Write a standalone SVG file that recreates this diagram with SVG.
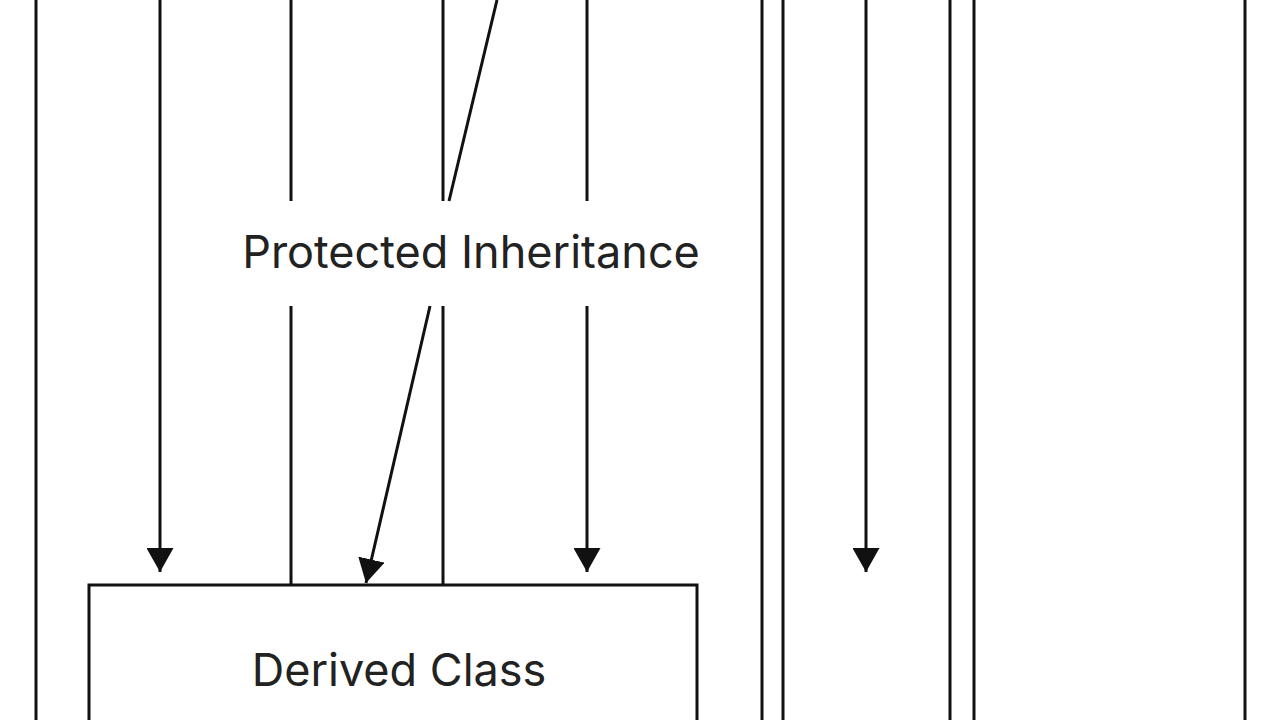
<svg xmlns="http://www.w3.org/2000/svg" width="1280" height="720" viewBox="0 0 1280 720">
<defs>
<marker id="ah" markerWidth="8" markerHeight="9" refX="8" refY="4.5" orient="auto" markerUnits="strokeWidth">
<path d="M0,0 L8,4.5 L0,9 Z" fill="#111"/>
</marker>
</defs>
<style>
.l{stroke:#111;stroke-width:3;fill:none}
.t{font-family:"Inter","Liberation Sans",sans-serif;font-size:45px;fill:#222;text-anchor:middle}
</style>
<rect width="1280" height="720" fill="#fff"/>
<g id="connectors">
<line class="l" x1="36" y1="0" x2="36" y2="720"/>
<line class="l" x1="160" y1="0" x2="160" y2="572" marker-end="url(#ah)"/>
<line class="l" x1="291" y1="0" x2="291" y2="201"/>
<line class="l" x1="291" y1="306" x2="291" y2="584"/>
<line class="l" x1="443" y1="0" x2="443" y2="201"/>
<line class="l" x1="443" y1="306" x2="443" y2="584"/>
<line class="l" x1="497" y1="0" x2="449" y2="201"/>
<line class="l" x1="430" y1="306" x2="366" y2="583" marker-end="url(#ah)"/>
<line class="l" x1="587" y1="0" x2="587" y2="201"/>
<line class="l" x1="587" y1="306" x2="587" y2="572" marker-end="url(#ah)"/>
<line class="l" x1="762" y1="0" x2="762" y2="720"/>
<line class="l" x1="783" y1="0" x2="783" y2="720"/>
<line class="l" x1="866" y1="0" x2="866" y2="572" marker-end="url(#ah)"/>
<line class="l" x1="950" y1="0" x2="950" y2="720"/>
<line class="l" x1="974" y1="0" x2="974" y2="720"/>
<line class="l" x1="1245" y1="0" x2="1245" y2="720"/>
</g>
<g id="label-protected">
<text class="t" x="471" y="268">Protected Inheritance</text>
</g>
<g id="derived-class">
<rect class="l" x="89" y="585" width="608" height="140" fill="#fff"/>
<text class="t" x="399" y="686">Derived Class</text>
</g>
</svg>
